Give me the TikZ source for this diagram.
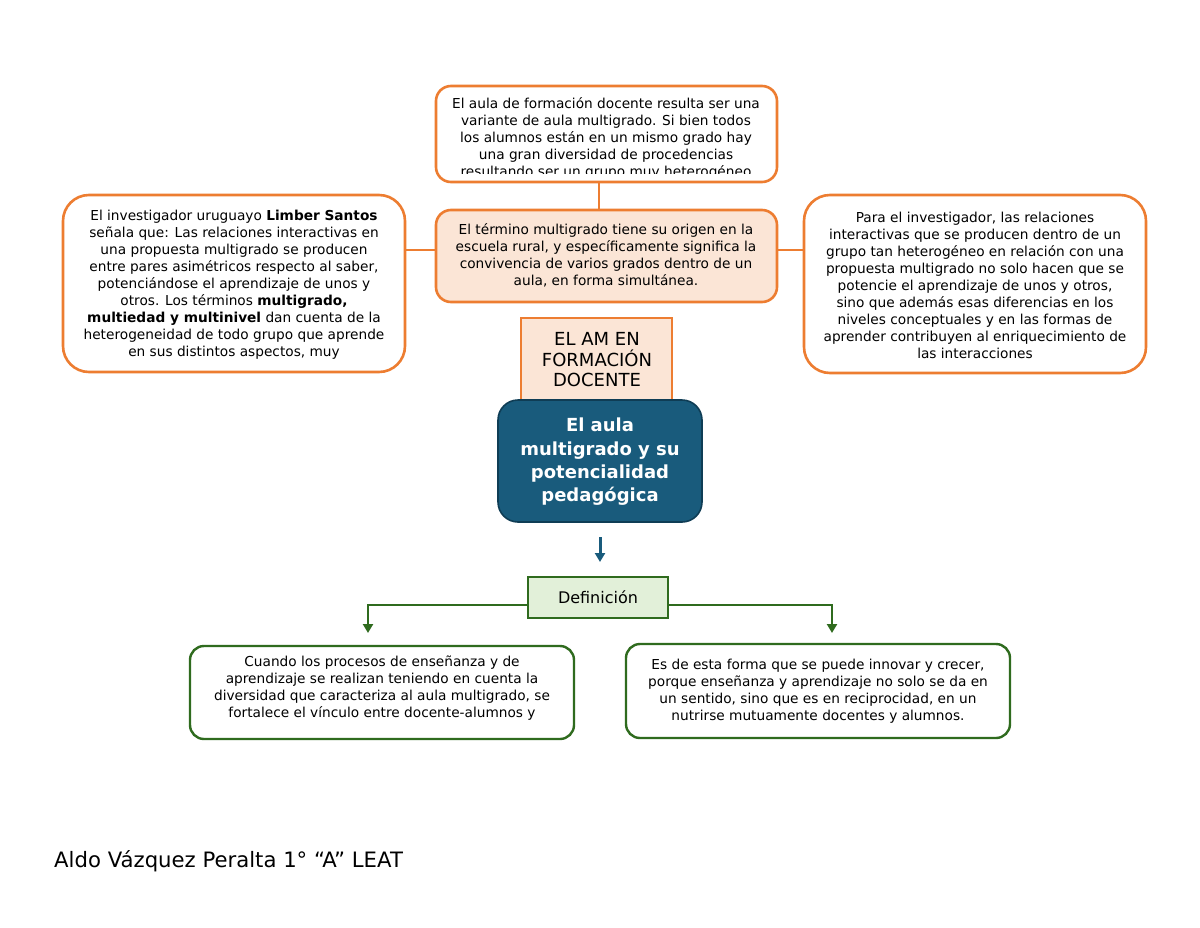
\documentclass[tikz,border=0pt]{standalone}
\usepackage{fontspec}
\setmainfont{DejaVu Sans}
\usetikzlibrary{arrows.meta}
\definecolor{orng}{HTML}{ED7D31}
\definecolor{peach}{HTML}{FBE5D6}
\definecolor{dblue}{HTML}{195B7C}
\definecolor{dblueb}{HTML}{0F3D55}
\definecolor{dgreen}{HTML}{2F6B1E}
\definecolor{lgreen}{HTML}{E2F0D9}
\tikzset{
  obox/.style={draw=orng, line width=2.6pt, fill=white, rounded corners=15pt, inner sep=0pt},
  gbox/.style={draw=dgreen, line width=2.4pt, fill=white, rounded corners=14pt, inner sep=0pt},
  txt/.style={align=center, inner sep=0pt, font=\fontsize{13.7}{17}\selectfont},
  oline/.style={draw=orng, line width=2.6pt},
  gline/.style={draw=dgreen, line width=2.8pt, -{Triangle[length=9pt,width=10pt]}},
}
\begin{document}
\begin{tikzpicture}[x=1pt,y=-1pt]
\useasboundingbox[fill=white] (0,0) rectangle (1200,927);

\coordinate (tb) at (599,182);

% top box
\node[obox, minimum width=341pt, minimum height=96pt] (top) at (606.5,134) {};
\begin{scope}
\clip (438,88) rectangle (775,173);
\node[txt] (toptxt) at (606,138) {El aula de formación docente resulta ser una\\variante de aula multigrado. Si bien todos\\los alumnos están en un mismo grado hay\\una gran diversidad de procedencias\\resultando ser un grupo muy heterogéneo};
\end{scope}

% middle peach box
\node[obox, fill=peach, minimum width=341pt, minimum height=92pt] (mid) at (606.5,256) {};
\node[txt] (midtxt) at (606,255.5) {El término multigrado tiene su origen en la\\escuela rural, y específicamente significa la\\convivencia de varios grados dentro de un\\aula, en forma simultánea.};
\draw[oline] (top.south -| tb) -- (mid.north -| tb);

% left box
\node[obox, rounded corners=26pt, minimum width=342pt, minimum height=177pt] (left) at (234,283.5) {};
\begin{scope}
\clip (66,198) rectangle (402,359);
\node[txt] (lefttxt) at (234,285) {El investigador uruguayo \textbf{Limber Santos}\\señala que: Las relaciones interactivas en\\una propuesta multigrado se producen\\entre pares asimétricos respecto al saber,\\potenciándose el aprendizaje de unos y\\otros. Los términos \textbf{multigrado,}\\\textbf{multiedad y multinivel} dan cuenta de la\\heterogeneidad de todo grupo que aprende\\en sus distintos aspectos, muy};
\end{scope}

% right box
\node[obox, rounded corners=26pt, minimum width=342pt, minimum height=178pt] (right) at (975,284) {};
\node[txt] (righttxt) at (975,285) {Para el investigador, las relaciones\\interactivas que se producen dentro de un\\grupo tan heterogéneo en relación con una\\propuesta multigrado no solo hacen que se\\potencie el aprendizaje de unos y otros,\\sino que además esas diferencias en los\\niveles conceptuales y en las formas de\\aprender contribuyen al enriquecimiento de\\las interacciones};

\coordinate (hl) at (420,250);
\draw[oline] (left.east |- hl) -- (mid.west |- hl);
\draw[oline] (mid.east |- hl) -- (right.west |- hl);

% EL AM box
\node[draw=orng, line width=2.2pt, fill=peach, minimum width=151pt, minimum height=82pt, inner sep=0pt] (am) at (596.5,359) {};
\node[align=center, inner sep=0pt, font=\fontsize{18}{20.5}\selectfont] (amtxt) at (597,360) {EL AM EN\\FORMACIÓN\\DOCENTE};

% blue box
\node[draw=dblueb, line width=1.6pt, fill=dblue, rounded corners=20pt, minimum width=204pt, minimum height=122pt, inner sep=0pt] (blue) at (600,461) {};
\node[align=center, inner sep=0pt, text=white, font=\bfseries\fontsize{18}{23.3}\selectfont] (bluetxt) at (600,462) {El aula\\multigrado y su\\potencialidad\\pedagógica};

% blue arrow
\coordinate (ba1) at (600,537);
\coordinate (ba2) at (600,562);
\draw[draw=dblue, line width=3pt, -{Triangle[length=9pt,width=10pt]}] (ba1) -- (ba2);

% Definicion box
\node[draw=dgreen, line width=1.8pt, fill=lgreen, minimum width=140pt, minimum height=41pt, inner sep=0pt, font=\fontsize{16}{18}\selectfont] (def) at (598,597.5) {Definición};

% bottom boxes
\node[gbox, minimum width=384pt, minimum height=93pt] (bl) at (382,692.5) {};
\begin{scope}
\clip (193,649) rectangle (571,729);
\node[txt] (bltxt) at (382,688.5) {Cuando los procesos de enseñanza y de\\aprendizaje se realizan teniendo en cuenta la\\diversidad que caracteriza al aula multigrado, se\\fortalece el vínculo entre docente-alumnos y};
\end{scope}
\node[gbox, minimum width=384pt, minimum height=94pt] (br) at (818,691) {};
\node[txt] (brtxt) at (818,691.5) {Es de esta forma que se puede innovar y crecer,\\porque enseñanza y aprendizaje no solo se da en\\un sentido, sino que es en reciprocidad, en un\\nutrirse mutuamente docentes y alumnos.};

\coordinate (gl) at (368,605);
\coordinate (gr) at (832,605);
\coordinate (gle) at (368,633);
\coordinate (gre) at (832,633);
\draw[gline] (def.west |- gl) -- (gl) -- (gle);
\draw[gline] (def.east |- gr) -- (gr) -- (gre);

% footer
\node[anchor=west, inner sep=0pt, font=\fontsize{21.2}{25}\selectfont] (foot) at (54,861) {Aldo Vázquez Peralta 1° “A” LEAT};
\end{tikzpicture}
\end{document}
